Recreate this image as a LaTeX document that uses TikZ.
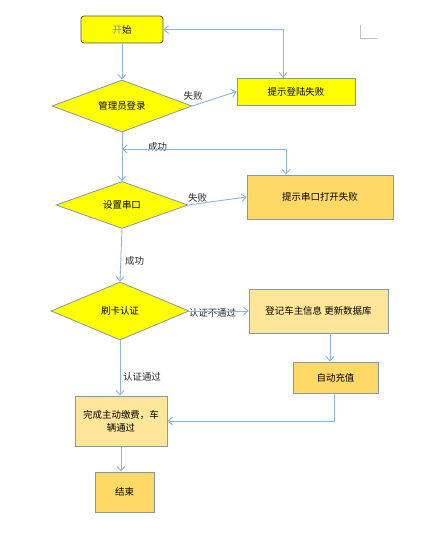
\documentclass[tikz,border=0pt]{standalone}
\usepackage{fontspec}
\newfontfamily\cjk{Noto Sans CJK SC}
\usetikzlibrary{shapes.geometric,arrows.meta}
\definecolor{yel}{HTML}{FFFF00}
\definecolor{lgold}{HTML}{FFE699}
\definecolor{gold}{HTML}{FFD966}
\definecolor{lineblue}{HTML}{8DB4E2}
\definecolor{bord}{HTML}{8497B0}
\definecolor{startbord}{HTML}{505050}
\definecolor{startblue}{HTML}{6F8FB8}
\begin{document}
\begin{tikzpicture}[x=1bp,y=-1bp,
  font=\cjk\fontsize{9.5}{13}\selectfont,
  conn/.style={draw=lineblue, line width=0.9bp, -{Straight Barb[length=4.5bp,width=8bp]}},
  plain/.style={draw=lineblue, line width=0.9bp},
  box/.style={draw=bord, line width=0.8bp, rectangle, inner sep=2bp},
  dia/.style={draw=bord, line width=0.8bp, diamond, aspect=3, inner sep=0pt, fill=yel},
  lbl/.style={inner sep=0pt, text=black!85}]
\useasboundingbox (0,0) rectangle (436,535);

\node[box, draw=startbord, rounded corners=3bp, fill=yel, minimum width=82bp, minimum height=27bp] (start) at (122,29.5) {{\color{startblue}开}始};
\node[dia, minimum width=140bp, minimum height=52bp] (d1) at (122,106) {管理员登录};
\node[box, fill=yel, minimum width=118bp, minimum height=27bp] (f1) at (296,91.5) {提示登陆失败};
\node[dia, minimum width=132bp, minimum height=47bp] (d2) at (122,205) {设置串口};
\node[box, fill=gold, minimum width=146bp, minimum height=44bp] (f2) at (320,197) {提示串口打开失败};
\node[dia, minimum width=138bp, minimum height=58bp] (d3) at (120,311) {刷卡认证};
\node[box, fill=lgold, minimum width=139bp, minimum height=44bp] (b1) at (318.5,311) {登记车主信息 更新数据库};
\node[box, fill=gold, minimum width=85bp, minimum height=31bp] (b2) at (335.5,377.5) {自动充值};
\node[box, fill=lgold, minimum width=92bp, minimum height=50bp, align=center] (b3) at (121,421) {完成主动缴费，车\\辆通过};
\node[box, fill=gold, minimum width=59bp, minimum height=40bp] (e) at (124.5,492) {结束};

% labels
\node[lbl] (l1) at (193,96) {失败};
\node[lbl] (l2) at (157.5,147) {成功};
\node[lbl] (l3) at (197.5,198) {失败};
\node[lbl] (l4) at (134.5,261) {成功};
\node[lbl] (l5) at (212.5,313) {认证不通过};
\node[lbl] (l6) at (142,377) {认证通过};

% junctions
\coordinate (j1) at (283,29.5);
\coordinate (j2) at (286,149);
\coordinate (c1) at (330,0);
\coordinate (c2) at (334,0);

% connectors
\draw[conn] (start.south) -- (d1.north);
\draw[conn] (d1.east) -- (f1.west);
\draw[plain] (j1 |- f1.north) -- (j1);
\draw[conn] (j1) -- (start.east);
\draw[conn] (j1) -- (j1 |- f1.north);
\draw[conn] (d1.south) -- (d2.north);
\draw[conn] (j2) -- (j2 -| d1.south);
\draw[conn] (j2) -- (j2 |- f2.north);
\draw[conn] (d2.east) -- (f2.west);
\draw[conn] (d2.south) -- (d3.north);
\draw[conn] (d3.east) -- (b1.west);
\draw[conn] (c1 |- b1.south) -- (c1 |- b2.north);
\draw[conn] (d3.south) -- (d3.south |- b3.north);
\draw[conn] (c2 |- b2.south) -- (c2 |- b3.east) -- (b3.east);
\draw[conn] (b3.south) -- (b3.south |- e.north);

% page corner mark
\draw[black!25, line width=0.6bp] (360,25) -- (360,38) -- (377,38);
\end{tikzpicture}
\end{document}
